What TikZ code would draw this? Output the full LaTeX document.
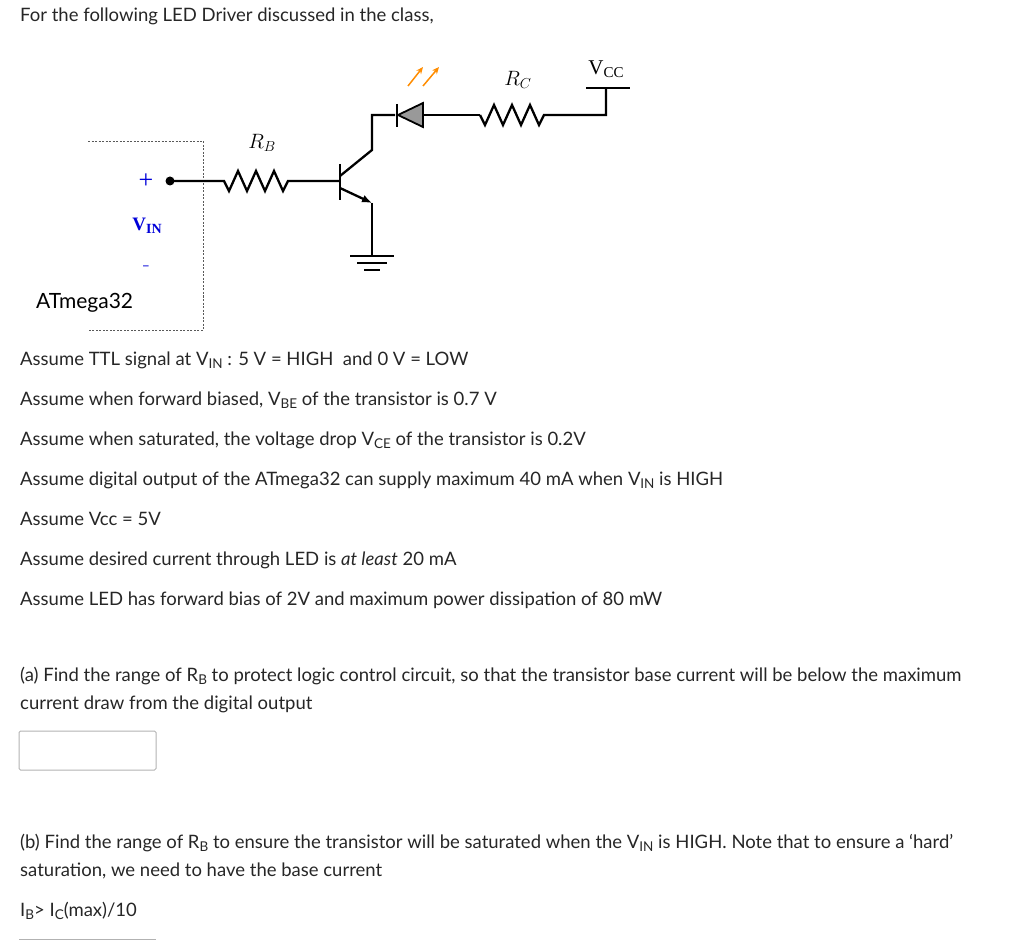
\documentclass[tikz,border=0pt]{standalone}
\usepackage{fontspec}
\setmainfont{Lato}
\newfontfamily\serf{Liberation Serif}
\usetikzlibrary{arrows.meta}
\newcommand{\lsub}[1]{\raisebox{-0.35ex}{\fontsize{13.5}{12}\selectfont #1}}
\begin{document}
\begin{tikzpicture}[x=1pt,y=-1pt,
  txt/.style={anchor=base west,inner sep=0,font=\fontsize{18.5}{20}\selectfont,text=black!85},
  wire/.style={line width=2.3pt,black}]
\useasboundingbox (0,0) rectangle (1009,941);
\node[txt] (t0) at (20,22) {For the following LED Driver discussed in the class,};
% dashed box
\draw[black!65,line width=0.9pt,dash pattern=on 2pt off 1.5pt] (88,141) -- (203,141) -- (203,330) -- (88,330);
\node[inner sep=0,font=\fontsize{21}{22}\selectfont,anchor=west] (atm) at (36,303) {ATmega32};
\node[text=blue!85!black,font=\fontsize{26}{26}\selectfont\serf] (plus) at (146,181) {+};
\node[text=blue!85!black,font=\bfseries\fontsize{19}{20}\selectfont\serf] (vin) at (147,226) {V\raisebox{-0.35ex}{\fontsize{14}{12}\selectfont IN}};
\node[text=blue!85!black,font=\fontsize{14}{14}\selectfont] (minus) at (146,268) {–};
% input
\coordinate (dot) at (170,181);
\fill (dot) circle (4.5);
\coordinate (rb1) at (224,181);
\coordinate (base) at (340,181);
\draw[wire] (dot) -- (rb1) -- ++(5,10) -- ++(9,-20) -- ++(9,20) -- ++(9,-20) -- ++(9,20) -- ++(9,-20) -- ++(9,20) -- ++(5,-10) -- (base);
\node[font=\fontsize{21}{20}\selectfont] (rbl) at (262,143) {$R_B$};
% transistor
\draw[wire] (340,164) -- (340,200);
\coordinate (col) at (372,150);
\coordinate (emi) at (372,203);
\draw[wire] (340,176) -- (col) -- (372,115) -- (395,115);
\draw[wire,-{Latex[length=10pt,width=8pt]}] (340,188) -- (emi);
\draw[wire] (emi) -- (372,256);
\coordinate (gnd) at (372,256);
\draw[wire] (350,256) -- (394,256) (357,263) -- (387,263) (364,270) -- (380,270);
% diode
\draw[wire] (397,104) -- (397,127);
\filldraw[fill=gray!80,draw=black,line width=1.8pt] (398,115) -- (423,103) -- (423,127) -- cycle;
\draw[wire] (423,115) -- (480,115);
% LED arrows
\draw[orange!90!yellow,line width=1.5pt,-{Stealth[length=7pt,width=6pt]}] (408,86) -- (423,67);
\draw[orange!90!yellow,line width=1.5pt,-{Stealth[length=7pt,width=6pt]}] (423,86) -- (439,67);
% RC
\draw[wire] (480,115) -- ++(5,10) -- ++(9,-20) -- ++(9,20) -- ++(9,-20) -- ++(9,20) -- ++(9,-20) -- ++(9,20) -- ++(5,-10) -- (606,115) -- (606,88);
\draw[wire] (586,88) -- (630,88);
\node[font=\fontsize{21}{20}\selectfont] (rcl) at (518,80) {$R_C$};
\node[font=\fontsize{21}{20}\selectfont\serf] (vcc) at (606,69) {V\raisebox{-0.3ex}{\fontsize{15}{12}\selectfont CC}};
% text lines
\node[txt] (l1) at (20,365) {Assume TTL signal at V\lsub{IN} : 5 V = HIGH\ \ and 0 V = LOW};
\node[txt] (l2) at (20,405) {Assume when forward biased, V\lsub{BE} of the transistor is 0.7 V};
\node[txt] (l3) at (20,445) {Assume when saturated, the voltage drop V\lsub{CE} of the transistor is 0.2V};
\node[txt] (l4) at (20,485) {Assume digital output of the ATmega32 can supply maximum 40 mA when V\lsub{IN} is HIGH};
\node[txt] (l5) at (20,525) {Assume Vcc = 5V};
\node[txt] (l6) at (20,565) {Assume desired current through LED is \textit{at least} 20 mA};
\node[txt] (l7) at (20,605) {Assume LED has forward bias of 2V and maximum power dissipation of 80 mW};
\node[txt] (a1) at (20,681) {(a) Find the range of R\lsub{B} to protect logic control circuit, so that the transistor base current will be below the maximum};
\node[txt] (a2) at (20,709) {current draw from the digital output};
\draw[black!30,line width=1pt,rounded corners=1.5pt] (19,731) rectangle (156,770);
\node[txt] (b1) at (20,848) {(b) Find the range of R\lsub{B} to ensure the transistor will be saturated when the V\lsub{IN} is HIGH. Note that to ensure a ‘hard’};
\node[txt] (b2) at (20,876) {saturation, we need to have the base current};
\node[txt] (b3) at (20,916) {I\lsub{B}> I\lsub{C}(max)/10};
\draw[black!30,line width=1pt] (19,939) -- (156,939);
\end{tikzpicture}
\end{document}
